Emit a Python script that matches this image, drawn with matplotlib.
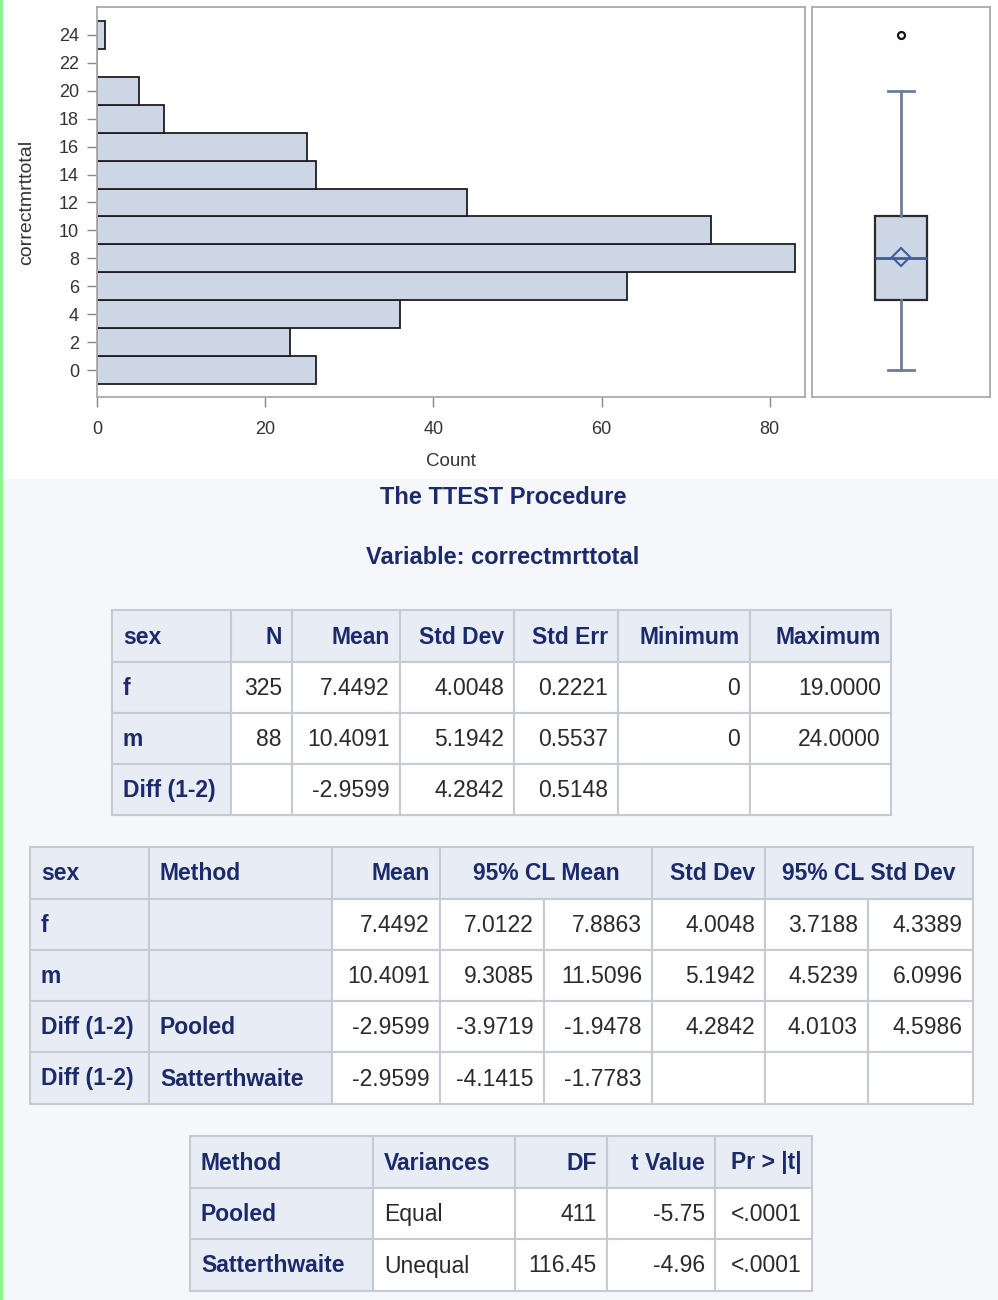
import matplotlib
matplotlib.use('Agg')
import matplotlib.pyplot as plt
from matplotlib.patches import Rectangle

plt.rcParams['font.family'] = ['Liberation Sans', 'DejaVu Sans']

# histogram data (bin midpoints, counts)
bin_mids = [0, 2, 4, 6, 8, 10, 12, 14, 16, 18, 20, 22, 24]
counts = [26, 23, 36, 63, 83, 73, 44, 26, 25, 8, 5, 0, 1]

# box plot summary
box_stats = dict(whislo=0, q1=5, med=8, mean=8.08, q3=11, whishi=20, fliers=[24])

# tables
t1_header = ['sex', 'N', 'Mean', 'Std Dev', 'Std Err', 'Minimum', 'Maximum']
t1_rows = [
    ['f', '325', '7.4492', '4.0048', '0.2221', '0', '19.0000'],
    ['m', '88', '10.4091', '5.1942', '0.5537', '0', '24.0000'],
    ['Diff (1-2)', '', '-2.9599', '4.2842', '0.5148', '', ''],
]
t2_header = ['sex', 'Method', 'Mean', '95% CL Mean', 'Std Dev', '95% CL Std Dev']
t2_rows = [
    ['f', '', '7.4492', '7.0122', '7.8863', '4.0048', '3.7188', '4.3389'],
    ['m', '', '10.4091', '9.3085', '11.5096', '5.1942', '4.5239', '6.0996'],
    ['Diff (1-2)', 'Pooled', '-2.9599', '-3.9719', '-1.9478', '4.2842', '4.0103', '4.5986'],
    ['Diff (1-2)', 'Satterthwaite', '-2.9599', '-4.1415', '-1.7783', '', '', ''],
]
t3_header = ['Method', 'Variances', 'DF', 't Value', 'Pr > |t|']
t3_rows = [
    ['Pooled', 'Equal', '411', '-5.75', '<.0001'],
    ['Satterthwaite', 'Unequal', '116.45', '-4.96', '<.0001'],
]

W, H = 998, 1300
fig = plt.figure(figsize=(W / 100, H / 100), dpi=100)
fig.patch.set_facecolor('white')

BAR = '#cdd6e4'
NAVY = '#1b2a6b'
TXT = '#2a2a2a'
GRID = '#c6cad2'
HEAD = '#e8ecf4'
PAGE = '#f5f7fa'

# background layer in pixel coords
bg = fig.add_axes([0, 0, 1, 1], zorder=0)
bg.set_xlim(0, W)
bg.set_ylim(H, 0)
bg.axis('off')
bg.add_patch(Rectangle((0, 479), W, H - 479, color=PAGE, lw=0))
bg.add_patch(Rectangle((0, 0), 3, H, color='#8cf58c', lw=0))


def fpos(x0, y0, x1, y1):
    return [x0 / W, 1 - y1 / H, (x1 - x0) / W, (y1 - y0) / H]


# histogram
ax = fig.add_axes(fpos(97, 7, 805, 397), zorder=1)
ax.barh(bin_mids, counts, height=2, color=BAR, edgecolor='#1e1e1e', linewidth=1.3)
ax.set_xlim(0, 84.2)
ax.set_ylim(-1.93, 26)
ax.set_xticks([0, 20, 40, 60, 80])
ax.set_yticks(bin_mids)
ax.set_xlabel('Count', fontsize=13.5, color='#333333', labelpad=11)
ax.set_ylabel('correctmrttotal', fontsize=14, color='#333333', labelpad=17)
ax.tick_params(axis='both', labelsize=13, colors='#888888', labelcolor='#333333', length=7, width=1)
ax.tick_params(axis='x', pad=10)
ax.tick_params(axis='y', pad=6)
for s in ax.spines.values():
    s.set_color('#aaaaaa')
    s.set_linewidth(1.3)

# box plot
bx = fig.add_axes(fpos(812, 7, 990, 397), zorder=1)
bx.bxp([box_stats], positions=[0], widths=0.6, showmeans=True, patch_artist=True,
       boxprops=dict(facecolor=BAR, edgecolor='#2a2a2a', linewidth=1.6),
       whiskerprops=dict(color='#6a7d96', linewidth=2),
       capprops=dict(color='#6a7d96', linewidth=2),
       medianprops=dict(color='#3f5c9a', linewidth=2),
       meanprops=dict(marker='D', markerfacecolor='none', markeredgecolor='#3f5c9a',
                      markersize=9, markeredgewidth=1.5),
       flierprops=dict(marker='o', markerfacecolor='none', markeredgecolor='#111111',
                       markersize=5, markeredgewidth=1.6))
bx.set_xlim(-1.03, 1.03)
bx.set_ylim(-1.93, 26)
bx.set_xticks([])
bx.set_yticks([])
for s in bx.spines.values():
    s.set_color('#aaaaaa')
    s.set_linewidth(1.3)

# titles
bg.text(503, 497, 'The TTEST Procedure', fontsize=17, fontweight='bold', color=NAVY,
        ha='center', va='center')
bg.text(503, 558, 'Variable: correctmrttotal', fontsize=17, fontweight='bold', color=NAVY,
        ha='center', va='center')

FS = 16.5


def draw_table(cols, rows_y, rows, n_label_cols, header_spans, header_align, data_align):
    # header row
    y0, y1 = rows_y[0], rows_y[1]
    for (txt, c0, c1), al in zip(header_spans, header_align):
        x0, x1 = cols[c0], cols[c1]
        bg.add_patch(Rectangle((x0, y0), x1 - x0, y1 - y0, facecolor=HEAD, edgecolor=GRID, lw=1.5))
        if al == 'left':
            tx = x0 + 11
        elif al == 'right':
            tx = x1 - 10
        else:
            tx = (x0 + x1) / 2
        bg.text(tx, (y0 + y1) / 2 + 1, txt, fontsize=FS, fontweight='bold', color=NAVY,
                ha=al, va='center')
    for r, row in enumerate(rows):
        y0, y1 = rows_y[r + 1], rows_y[r + 2]
        for c, txt in enumerate(row):
            x0, x1 = cols[c], cols[c + 1]
            is_lab = c < n_label_cols
            bg.add_patch(Rectangle((x0, y0), x1 - x0, y1 - y0,
                                   facecolor=HEAD if is_lab else 'white', edgecolor=GRID, lw=1.5))
            al = data_align[c]
            tx = x0 + 11 if al == 'left' else x1 - 10
            bg.text(tx, (y0 + y1) / 2 + 1, txt, fontsize=FS,
                    fontweight='bold' if is_lab else 'normal',
                    color=NAVY if is_lab else TXT, ha=al, va='center')


# table 1
c1 = [112, 231, 292, 400, 514, 618, 750, 891]
r1 = [610, 662, 713, 764, 815]
draw_table(c1, r1, t1_rows, 1,
           [(h, i, i + 1) for i, h in enumerate(t1_header)],
           ['left'] + ['right'] * 6,
           ['left'] + ['right'] * 6)

# table 2
c2 = [30, 149, 332, 440, 544, 652, 765, 868, 973]
r2 = [847, 899, 950, 1001, 1052, 1104]
spans2 = [(t2_header[0], 0, 1), (t2_header[1], 1, 2), (t2_header[2], 2, 3),
          (t2_header[3], 3, 5), (t2_header[4], 5, 6), (t2_header[5], 6, 8)]
draw_table(c2, r2, t2_rows, 2, spans2,
           ['left', 'left', 'right', 'center', 'right', 'center'],
           ['left', 'left'] + ['right'] * 6)

# table 3
c3 = [190, 373, 515, 607, 715, 812]
r3 = [1136, 1188, 1239, 1291]
draw_table(c3, r3, t3_rows, 1,
           [(h, i, i + 1) for i, h in enumerate(t3_header)],
           ['left', 'left', 'right', 'right', 'right'],
           ['left', 'left', 'right', 'right', 'right'])

fig.savefig('out.png', dpi=100, facecolor=fig.get_facecolor())
